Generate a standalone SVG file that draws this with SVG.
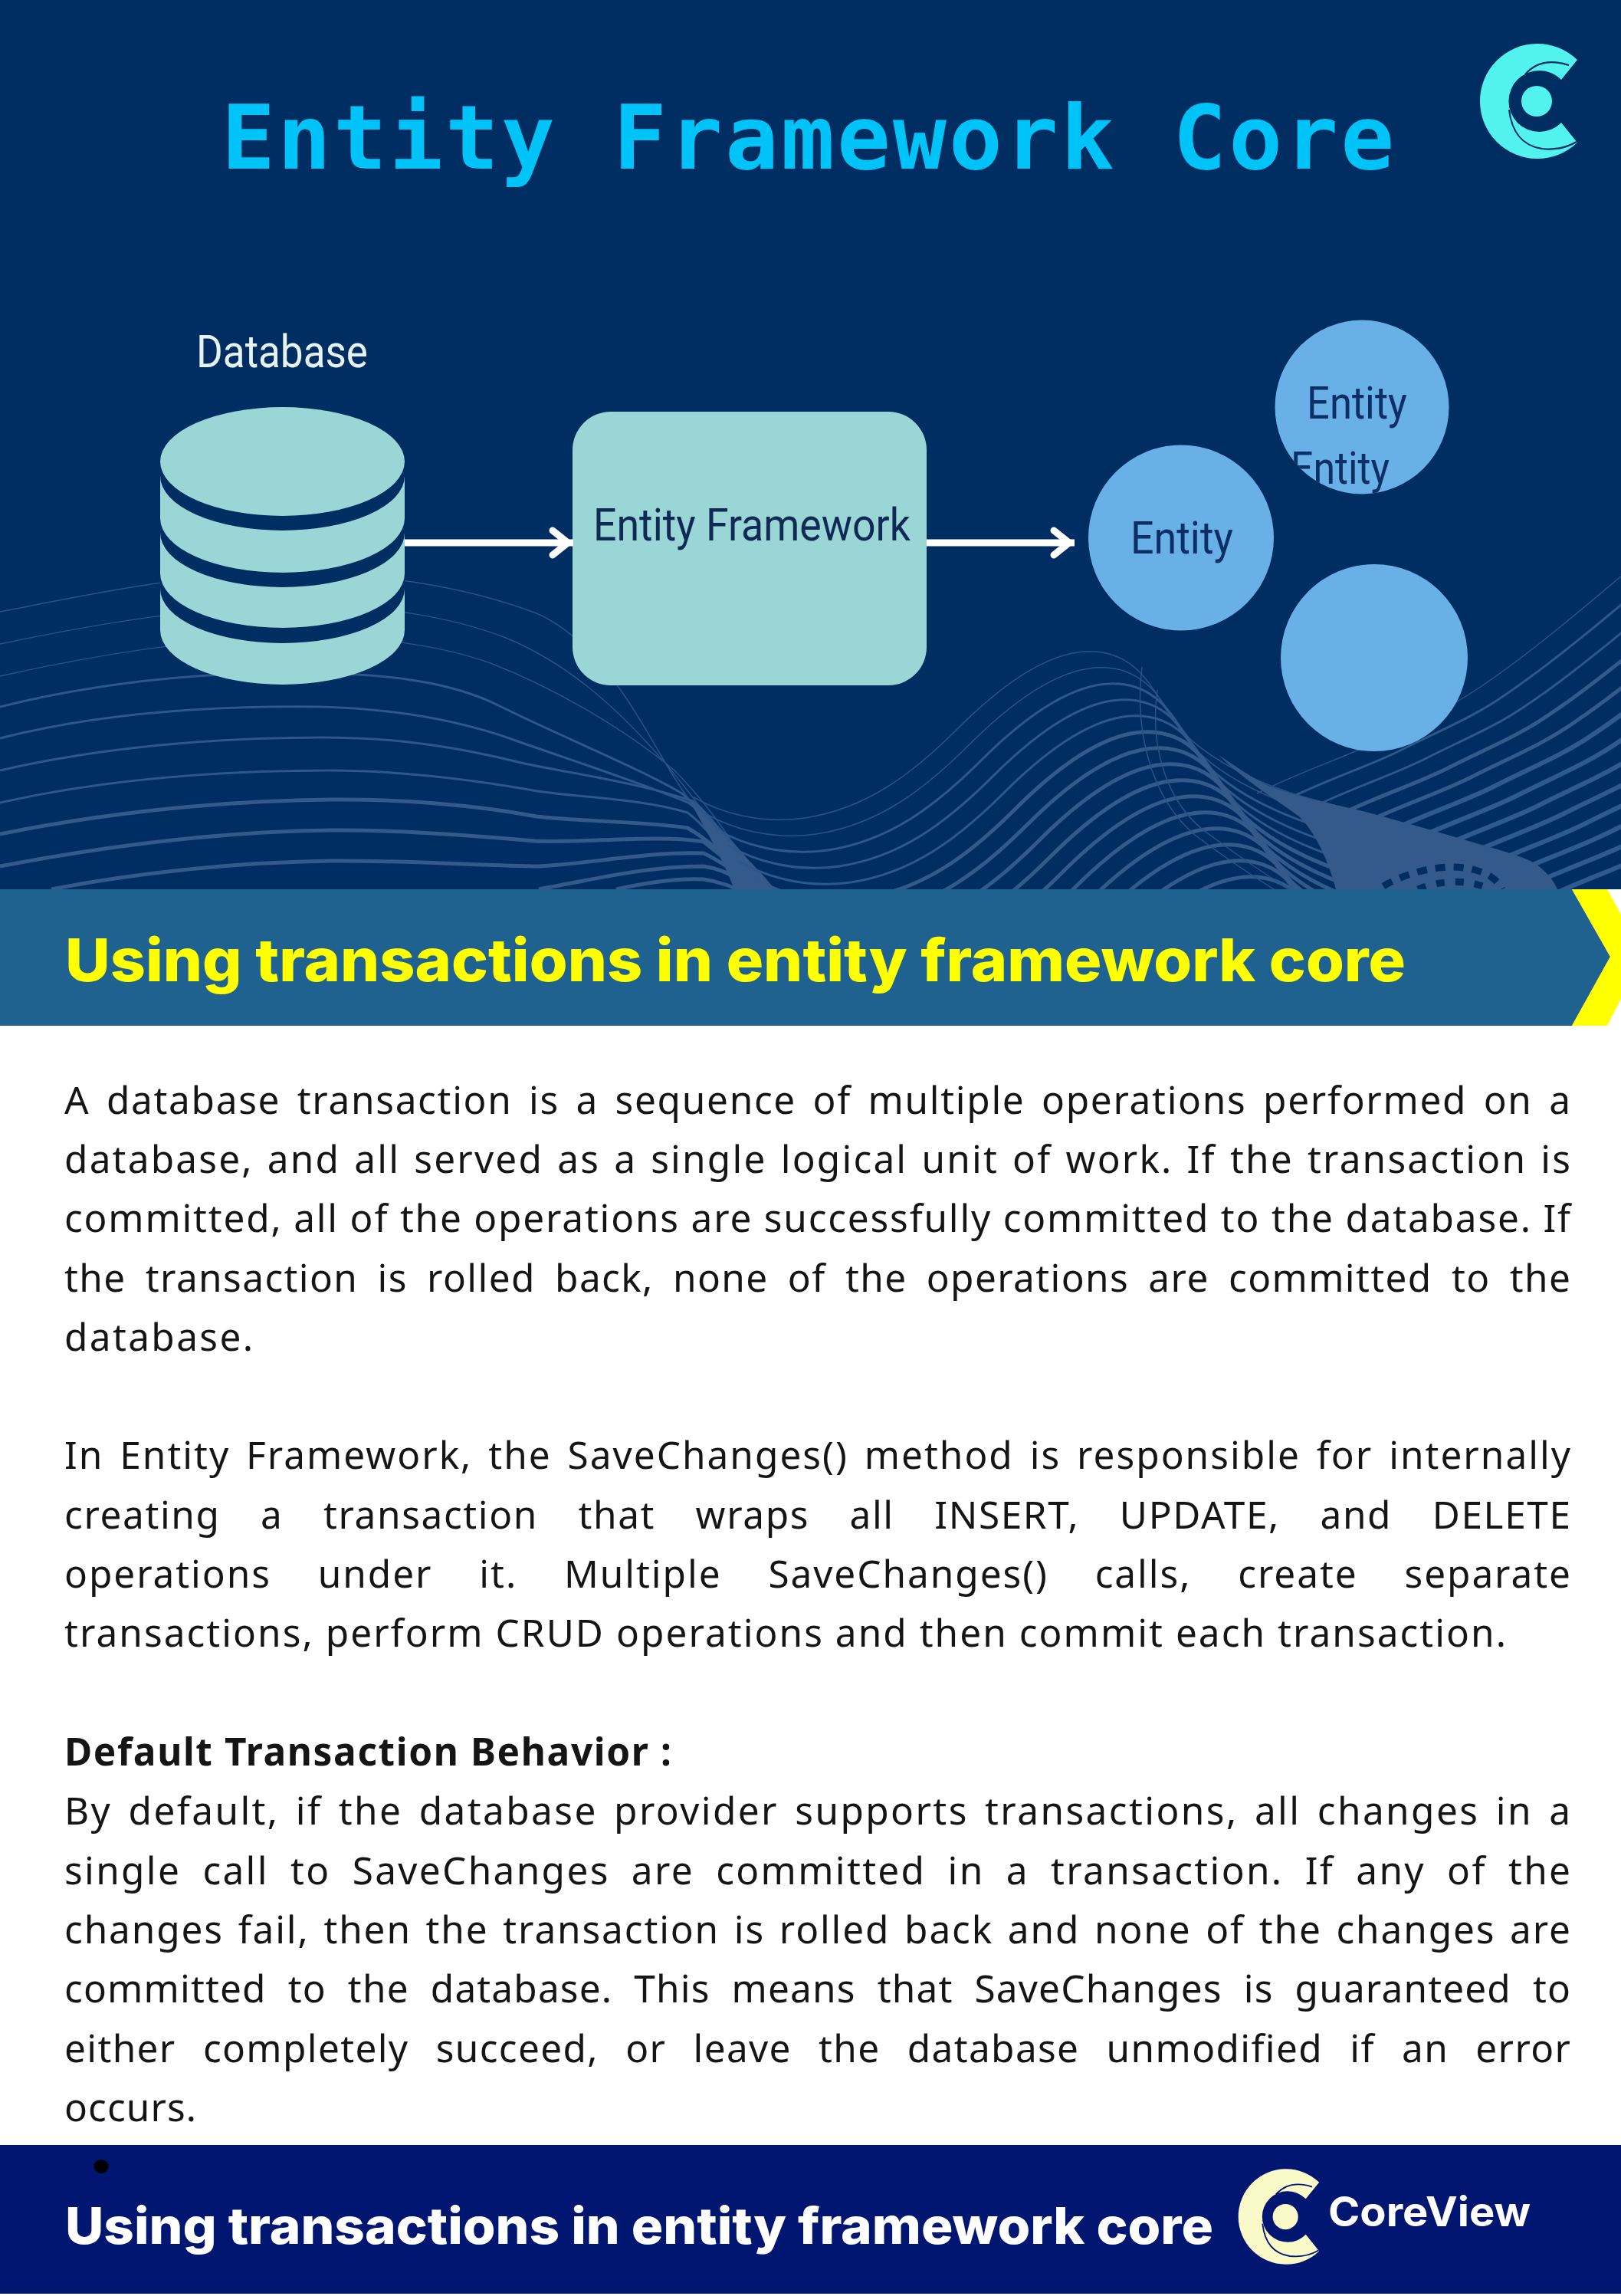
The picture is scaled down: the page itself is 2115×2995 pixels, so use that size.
<svg xmlns="http://www.w3.org/2000/svg" xmlns:xlink="http://www.w3.org/1999/xlink" width="2115" height="2995" viewBox="0 0 2115 2995">
<style>
.body{font-family:"Noto Sans","Open Sans",sans-serif;font-size:49.5px;fill:#151515;font-variant-ligatures:none}
.lab{font-family:"Roboto","Liberation Sans",sans-serif;font-size:60px;fill:#0b2f66}
.w1{fill:none;stroke:#2a5288;stroke-width:1.5}
.w2{fill:none;stroke:#2e578c;stroke-width:3}
.w3{fill:none;stroke:#34598b;stroke-width:5}
.w4{fill:none;stroke:#2f5a90;stroke-width:6}
.db{fill:#9bd6d6}
.band{fill:#002d62}
.ent{fill:#69b0e6}
.arrow{fill:none;stroke:#fff;stroke-width:9;marker-end:url(#head)}
</style>
<defs>
<marker id="head" markerUnits="userSpaceOnUse" markerWidth="44" markerHeight="50" refX="39" refY="25" orient="auto" overflow="visible">
<path d="M12,9 L32,25 L12,41" fill="none" stroke="#fff" stroke-width="9" stroke-linecap="round" stroke-linejoin="miter"/>
</marker>
<clipPath id="hero"><rect x="0" y="0" width="2115" height="1160"/></clipPath>
<clipPath id="topc"><circle cx="1777" cy="531" r="113.5"/></clipPath>
<path id="rw" d="M905,1040 C940,1060 990,1075 1050,1067 C1130,1055 1190,1010 1250,950 C1320,880 1380,846 1430,850 C1480,854 1500,890 1526,933 C1560,985 1640,1025 1729,1047 C1800,1070 1900,1090 1967,1113 L2040,1170"/>
<path id="sw" d="M1640,1035 C1700,1005 1750,990 1797,967 C1850,940 1890,925 1933,895 C2000,850 2070,790 2200,680"/>
<g id="logo">
<path stroke="none" d="M2058,78 A75,75 0 1 0 2058,186 L2037,160 A40,40 0 1 1 2037,104 Z"/>
<circle stroke="none" cx="2005" cy="132" r="20"/>
<path fill="none" stroke-width="2.2" d="M2047,85 C2025,78 2005,80 1990,97 M1969,143 C1972,170 1985,190 2012,194 C2030,196 2045,192 2057,185"/>
</g>
</defs>

<g id="hero-background">
<rect x="0" y="0" width="2115" height="1160" fill="#002d62"/>
<g id="waves" clip-path="url(#hero)">
<path class="w1" d="M0,798 C120,775 250,745 400,748 C520,750 620,770 700,800 C780,835 830,930 871,1000 C900,1050 950,1110 980,1165"/>
<path class="w1" d="M0,840 C120,815 260,790 400,790 C500,790 590,805 660,832 C740,865 800,920 850,975 C900,1030 950,1100 985,1165"/>
<path class="w1" d="M0,882 C120,855 270,830 400,830 C480,830 570,840 640,865 C730,900 820,955 880,1005 C920,1045 960,1100 995,1165"/>
<path class="w2" d="M0,922 C130,890 270,875 420,878 C510,880 590,890 650,920 C730,960 830,1000 890,1035 C930,1070 970,1110 1005,1165"/>
<path class="w2" d="M0,963 C130,930 280,920 420,922 C520,925 600,940 670,965 C740,990 820,1015 898,1047 C930,1070 970,1120 1000,1165"/>
<path class="w2" d="M0,1005 C130,975 280,962 420,962 C520,962 600,975 680,995 C750,1010 830,1020 904,1045 C930,1065 960,1110 990,1165"/>
<path class="w2" d="M0,1047 C130,1018 280,1005 430,1005 C530,1005 620,1018 690,1030 C740,1040 830,1040 897,1060 C925,1080 950,1120 985,1165"/>
<path class="w3" d="M0,1088 C130,1062 280,1045 430,1043 C520,1042 620,1050 700,1065 C760,1072 850,1072 897,1080 C925,1095 960,1130 990,1165"/>
<path class="w3" d="M0,1130 C130,1105 280,1085 430,1083 C520,1082 620,1090 697,1097 C760,1100 860,1088 918,1098 C940,1115 970,1140 995,1165"/>
<path class="w3" d="M67,1160 C170,1140 300,1125 430,1123 C530,1122 640,1130 703,1130 C760,1128 850,1110 918,1113 C945,1125 975,1150 995,1165"/>
<path class="w3" d="M703,1160 C760,1150 840,1130 918,1130 C950,1135 970,1150 990,1165"/>
<path class="w3" d="M804,1160 C840,1152 880,1145 918,1147 C940,1150 960,1158 970,1165"/>
<path fill="#34598b" d="M897,1040 C925,1075 975,1115 1011,1160 L958,1160 C945,1125 920,1080 897,1040 Z"/>
<use href="#rw" class="w1"/>
<use href="#rw" class="w1" transform="translate(15,21)"/>
<use href="#rw" class="w2" transform="translate(30,42)"/>
<use href="#rw" class="w2" transform="translate(45,63)"/>
<use href="#rw" class="w2" transform="translate(60,84)"/>
<use href="#rw" class="w3" transform="translate(75,105)"/>
<use href="#rw" class="w3" transform="translate(90,126)"/>
<use href="#rw" class="w3" transform="translate(105,147)"/>
<use href="#rw" class="w3" transform="translate(120,168)"/>
<use href="#rw" class="w3" transform="translate(135,189)"/>
<use href="#rw" class="w3" transform="translate(150,210)"/>
<use href="#rw" class="w3" transform="translate(165,231)"/>
<use href="#rw" class="w3" transform="translate(180,252)"/>
<use href="#rw" class="w3" transform="translate(195,273)"/>
<use href="#rw" class="w3" transform="translate(210,294)"/>
<use href="#rw" class="w3" transform="translate(225,315)"/>
<use href="#sw" class="w1"/>
<use href="#sw" class="w2" transform="translate(30,12)"/>
<use href="#sw" class="w2" transform="translate(60,24)"/>
<use href="#sw" class="w3" transform="translate(90,36)"/>
<use href="#sw" class="w3" transform="translate(120,48)"/>
<use href="#sw" class="w4" transform="translate(150,60)"/>
<use href="#sw" class="w4" transform="translate(180,72)"/>
<use href="#sw" class="w4" transform="translate(210,84)"/>
<use href="#sw" class="w4" transform="translate(240,96)"/>
<use href="#sw" class="w4" transform="translate(270,108)"/>
<use href="#sw" class="w4" transform="translate(300,120)"/>
<use href="#sw" class="w4" transform="translate(330,132)"/>
<use href="#sw" class="w4" transform="translate(360,144)"/>
<path class="w1" d="M1490,870 C1480,950 1500,1040 1560,1090 C1600,1120 1630,1140 1670,1165"/>
<path class="w1" d="M1510,900 C1500,970 1520,1050 1580,1090 C1620,1120 1650,1140 1690,1165"/>
<path fill="#34598b" d="M1590,985 C1620,1005 1645,1022 1661,1027 C1710,1045 1750,1050 1797,1063 C1850,1078 1895,1090 1933,1103 C1970,1112 1995,1120 2008,1130 C2020,1140 2028,1150 2032,1160 L1743,1160 C1735,1130 1720,1090 1695,1065 C1660,1040 1620,1015 1590,985 Z"/>
<path fill="none" stroke="#002d62" stroke-width="9" stroke-dasharray="13 11" d="M1805,1156 C1840,1135 1890,1125 1925,1135 C1945,1140 1955,1150 1960,1160"/>
<path fill="none" stroke="#002d62" stroke-width="9" stroke-dasharray="11 14" d="M1850,1160 C1880,1148 1915,1146 1945,1160"/>
</g>
</g>

<text id="title" x="289" y="220" textLength="1530" font-family="'DejaVu Sans Mono',monospace" font-weight="700" font-size="116" fill="#00c3f7">Entity Framework Core</text>
<g id="logo-top"><use href="#logo" fill="#52f2ee" stroke="#002d62"/></g>

<g id="node-database">
<text x="256" y="479" textLength="224" lengthAdjust="spacingAndGlyphs" font-family="Roboto,'Liberation Sans',sans-serif" font-size="59" fill="#e6f3f0">Database</text>
<path class="db" d="M209,602 A159.5,71 0 0 1 528,602 L528,822 A159.5,71 0 0 1 209,822 Z"/>
<path class="band" d="M209,602 A159.5,71 0 0 0 528,602 L528,621 A159.5,71 0 0 1 209,621 Z"/>
<path class="band" d="M209,676 A159.5,71 0 0 0 528,676 L528,695 A159.5,71 0 0 1 209,695 Z"/>
<path class="band" d="M209,748 A159.5,71 0 0 0 528,748 L528,768 A159.5,71 0 0 1 209,768 Z"/>
</g>

<g id="node-framework">
<rect x="747" y="537" width="462" height="357" rx="50" ry="50" fill="#9bd6d6"/>
<text x="774" y="705" textLength="414" lengthAdjust="spacingAndGlyphs" class="lab" style="fill:#0f2a55">Entity Framework</text>
</g>

<g id="node-entity-a">
<circle class="ent" cx="1541" cy="701.5" r="121"/>
<text x="1475" y="722" textLength="134" lengthAdjust="spacingAndGlyphs" class="lab">Entity</text>
</g>
<g id="node-entity-b">
<circle class="ent" cx="1777" cy="531" r="113.5"/>
<text x="1705" y="546" textLength="131" lengthAdjust="spacingAndGlyphs" class="lab">Entity</text>
<text x="1684" y="631" textLength="129" lengthAdjust="spacingAndGlyphs" class="lab" clip-path="url(#topc)">Entity</text>
</g>
<g id="node-entity-c">
<circle class="ent" cx="1793" cy="858" r="122"/>
</g>

<g id="connectors">
<path class="arrow" d="M528,708 L748,708"/>
<path class="arrow" d="M1209,708 L1402,708"/>
</g>

<g id="banner">
<polygon points="0,1160 2051,1160 2101,1248 2051,1338 0,1338" fill="#20628f"/>
<polygon points="2051,1160 2097,1160 2115,1193 2115,1303 2097,1338 2051,1338 2101,1248" fill="#ffff00"/>
<text x="85" y="1280" textLength="1749" lengthAdjust="spacingAndGlyphs" font-family="Inter,'Liberation Sans',sans-serif" font-weight="800" font-size="77" fill="#ffff00">Using transactions in entity framework core</text>
</g>

<g id="article">
<text class="body" x="84" y="1452.5" textLength="1965" word-spacing="7">A database transaction is a sequence of multiple operations performed on a</text>
<text class="body" x="84" y="1530" textLength="1965" word-spacing="3">database, and all served as a single logical unit of work. If the transaction is</text>
<text class="body" x="84" y="1607.3" textLength="1965">committed, all of the operations are successfully committed to the database. If</text>
<text class="body" x="84" y="1684.6" textLength="1965" word-spacing="11">the transaction is rolled back, none of the operations are committed to the</text>
<text class="body" x="84" y="1761.8" textLength="246">database.</text>
<text class="body" x="84" y="1916.4" textLength="1965" word-spacing="6">In Entity Framework, the SaveChanges() method is responsible for internally</text>
<text class="body" x="84" y="1993.7" textLength="1965" word-spacing="38">creating a transaction that wraps all INSERT, UPDATE, and DELETE</text>
<text class="body" x="84" y="2071" textLength="1965" word-spacing="46">operations under it. Multiple SaveChanges() calls, create separate</text>
<text class="body" x="84" y="2148.4" textLength="1881">transactions, perform CRUD operations and then commit each transaction.</text>
<text class="body" x="84" y="2303" textLength="792" font-weight="700">Default Transaction Behavior :</text>
<text class="body" x="84" y="2380.3" textLength="1965" word-spacing="6">By default, if the database provider supports transactions, all changes in a</text>
<text class="body" x="84" y="2457.6" textLength="1965" word-spacing="13">single call to SaveChanges are committed in a transaction. If any of the</text>
<text class="body" x="84" y="2535" textLength="1965" word-spacing="4">changes fail, then the transaction is rolled back and none of the changes are</text>
<text class="body" x="84" y="2612.3" textLength="1965" word-spacing="14">committed to the database. This means that SaveChanges is guaranteed to</text>
<text class="body" x="84" y="2689.6" textLength="1965" word-spacing="21">either completely succeed, or leave the database unmodified if an error</text>
<text class="body" x="84" y="2767" textLength="172">occurs.</text>
</g>

<g id="footer">
<rect x="0" y="2798" width="2115" height="194" fill="#001670"/>
<ellipse cx="132" cy="2826" rx="9.5" ry="9" fill="#000"/>
<text x="85" y="2927" textLength="1498" lengthAdjust="spacingAndGlyphs" font-family="Inter,'Liberation Sans',sans-serif" font-weight="800" font-size="66" fill="#fff">Using transactions in entity framework core</text>
<use href="#logo" fill="#fafac8" stroke="#001670" transform="translate(13,2782) scale(0.83)"/>
<text x="1733" y="2904" textLength="264" lengthAdjust="spacingAndGlyphs" font-family="Inter,'Liberation Sans',sans-serif" font-weight="700" font-size="53" fill="#fff">CoreView</text>
</g>
</svg>
